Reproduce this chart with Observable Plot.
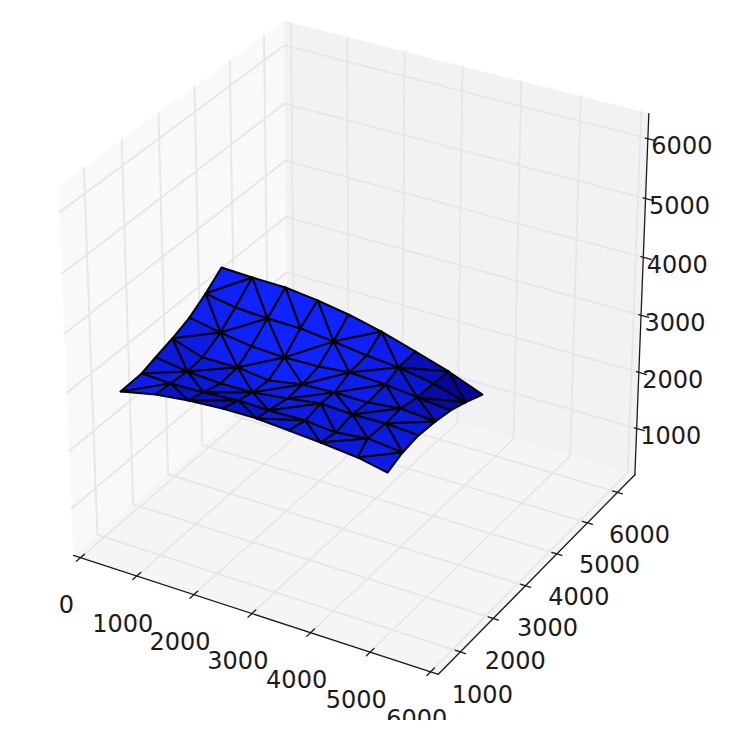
<!doctype html><html><head><meta charset="utf-8"><style>html,body{margin:0;background:#fff}svg{display:block}</style></head><body><script src="https://cdn.jsdelivr.net/npm/d3@7"></script><script src="https://cdn.jsdelivr.net/npm/@observablehq/plot@0.6"></script>
<div id="c"></div>
<script>
// Axis limits and ticks
const xLim=[-125,6125], yLim=[344,6594], zLim=[166,6416];
const xTicks=[0,1000,2000,3000,4000,5000,6000];
const yTicks=[1000,2000,3000,4000,5000,6000];
const zTicks=[1000,2000,3000,4000,5000,6000];
// Surface vertices (7 rows x 9 columns)
const xRows=[[190,760,1355,1935,2500,3075,3670,4245,4820],
[350,980,1580,2130,2720,3255,3720,4270,4775],
[470,1145,1775,2355,2900,3305,3835,4310,4765],
[530,1275,1900,2485,2965,3425,3905,4300,4795],
[555,1265,1905,2455,2990,3425,3920,4370,4840],
[580,1200,1800,2385,2930,3500,4000,4400,4940],
[535,1145,1705,2290,2900,3445,3990,4585,5090]];
const yRows=[[4160,4125,4110,4080,4035,4025,4010,3990,3995],
[3440,3270,3210,3245,3215,3270,3405,3480,3550],
[2785,2575,2425,2405,2465,2675,2815,2925,3115],
[2205,1860,1825,1735,1895,2035,2165,2440,2600],
[1695,1455,1345,1340,1430,1635,1700,1880,2015],
[1275,1095,1040,1055,1000,1080,1080,1305,1370],
[770,770,780,770,715,695,675,700,670]];
const zRows=[[3350,3350,3350,3305,3245,3120,2955,2790,2560],
[3290,3310,3320,3290,3250,3140,3000,2850,2640],
[3230,3270,3290,3280,3255,3165,3045,2910,2725],
[3175,3240,3270,3270,3260,3190,3095,2970,2815],
[3115,3205,3245,3260,3270,3210,3140,3030,2900],
[3060,3165,3220,3250,3275,3235,3185,3090,2985],
[3000,3130,3190,3235,3280,3255,3230,3150,3070]];
// Triangulation diagonal of each grid cell, and its shade (0 dark .. 1 bright)
const diagonals=["ammmamam","mamamama","amamaamm","mamaamaa","amamammm","amamamaa"];
const shades=[[.95,1,1,1,.95,.85,.45,.2],
[.9,.95,1,1,.95,.85,.65,.3],
[.8,.9,.95,1,.95,.85,.7,.5],
[.7,.75,.85,.85,.85,.8,.7,.7],
[.75,.7,.65,.75,.8,.75,.7,.75],
[.85,.6,.5,.55,.7,.75,.75,.8]];

// mplot3d projection, elev 30, azim -60, dist 10
const U=[Math.sqrt(3)/2,.5,0],V=[-.25,Math.sqrt(3)/4,Math.sqrt(3)/2],N=[Math.sqrt(3)/4,-.75,.5];
const dot=(a,b)=>a[0]*b[0]+a[1]*b[1]+a[2]*b[2];
function proj(x,y,z){
  const p=[(x-xLim[0])/(xLim[1]-xLim[0])-.5,(y-yLim[0])/(yLim[1]-yLim[0])-.5,(z-zLim[0])/(zLim[1]-zLim[0])-.5];
  const w=10-dot(N,p);
  return {X:dot(U,p)/w,Y:dot(V,p)/w};
}
const path=(id,pts,extra={})=>pts.map(p=>({id,...proj(...p),...extra}));
const [x0,x1]=xLim,[y0,y1]=yLim,[z0,z1]=zLim;
const panes={
  left:path("l",[[x0,y0,z0],[x0,y1,z0],[x0,y1,z1],[x0,y0,z1],[x0,y0,z0]]),
  back:path("b",[[x0,y1,z0],[x1,y1,z0],[x1,y1,z1],[x0,y1,z1],[x0,y1,z0]]),
  floor:path("f",[[x0,y0,z0],[x1,y0,z0],[x1,y1,z0],[x0,y1,z0],[x0,y0,z0]])
};
const grid=[
  ...xTicks.flatMap(t=>path("gx"+t,[[t,y0,z0],[t,y1,z0],[t,y1,z1]])),
  ...yTicks.flatMap(t=>path("gy"+t,[[x1,t,z0],[x0,t,z0],[x0,t,z1]])),
  ...zTicks.flatMap(t=>path("gz"+t,[[x0,y0,t],[x0,y1,t],[x1,y1,t]]))
];
const tris=[];
const vtx=(r,c)=>[xRows[r][c],yRows[r][c],zRows[r][c]];
diagonals.forEach((d,r)=>[...d].forEach((k,c)=>{
  const a=vtx(r,c),b=vtx(r,c+1),e=vtx(r+1,c),f=vtx(r+1,c+1),shade=shades[r][c];
  const t=k==="m"?[[a,b,f],[a,f,e]]:[[a,b,e],[b,f,e]];
  t.forEach((q,i)=>tris.push(...path(`t${r}-${c}-${i}`,[...q,q[0]],{shade})));
}));
const axes=[
  ...path("ax",[[x0,y0,z0],[x1,y0,z0]]),
  ...path("ay",[[x1,y0,z0],[x1,y1,z0]]),
  ...path("az",[[x1,y1,z0],[x1,y1,z1]]),
  ...xTicks.flatMap(t=>path("tx"+t,[[t,y0-110,z0],[t,y0+110,z0]])),
  ...yTicks.flatMap(t=>path("ty"+t,[[x1+85,t,z0],[x1-85,t,z0]])),
  ...zTicks.flatMap(t=>path("tz"+t,[[x1-40,y1,t],[x1+130,y1,t]]))
];
const labelsX=xTicks.map(t=>({t,...proj(t,y0,z0)}));
const labelsY=yTicks.map(t=>({t,...proj(x1,t,z0)}));
const labelsZ=zTicks.map(t=>({t,...proj(x1,y1,t)}));

const S=4212,W=744,H=720,ox=358,oy=336;
const txt={x:"X",y:"Y",text:d=>String(d.t),fontSize:24,fill:"#1c1c1c",fontFamily:"DejaVu Sans"};
const line=(d,o)=>Plot.line(d,{x:"X",y:"Y",z:"id",...o});
const chart=Plot.plot({
  width:W,height:H,margin:0,
  x:{domain:[-ox/S,(W-ox)/S],range:[0,W],axis:null},
  y:{domain:[oy/S,(oy-H)/S],range:[0,H],axis:null},
  color:{type:"linear",domain:[0,1],range:["rgb(0,0,125)","rgb(15,35,255)"]},
  style:{background:"#fff"},
  marks:[
    line(panes.left,{fill:"#f9f9f9"}),
    line(panes.back,{fill:"#f2f2f2"}),
    line(panes.floor,{fill:"#f5f5f5"}),
    line(grid,{stroke:"#e6e6e6",strokeWidth:1.8}),
    line(tris,{fill:"shade",stroke:"#000",strokeWidth:2,strokeLinejoin:"round"}),
    line(axes,{stroke:"#1a1a1a",strokeWidth:1.3}),
    Plot.text(labelsX,{...txt,dx:-14,dy:48}),
    Plot.text(labelsY,{...txt,dx:22,dy:43}),
    Plot.text(labelsZ,{...txt,dx:34,dy:8})
  ]
});
document.getElementById("c").appendChild(chart);
</script></body></html>
